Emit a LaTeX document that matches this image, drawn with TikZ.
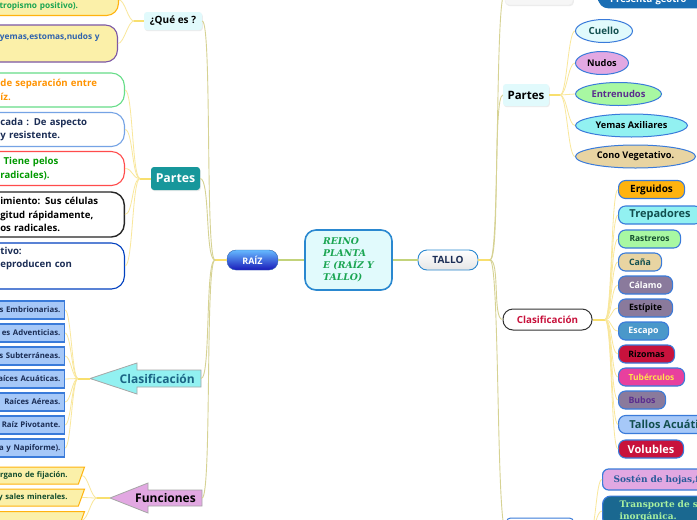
\documentclass[tikz,border=0pt]{standalone}
\usepackage{fontspec}
\setmainfont{Open Sans}
\newfontfamily\serifbold{DejaVu Serif}
\usetikzlibrary{shapes.geometric,shadows}

\definecolor{spinec}{HTML}{D6D293}
\definecolor{stemc}{HTML}{C3D37B}
\definecolor{twigc}{HTML}{F9E79B}
\definecolor{stubc}{HTML}{F8DF6E}
\definecolor{cyanf}{HTML}{E1FAFC}
\definecolor{blueb}{HTML}{3A7BDA}
\definecolor{hubb}{HTML}{2A88D0}
\definecolor{hubtext}{HTML}{1BA552}
\definecolor{tealf}{HTML}{17979B}
\definecolor{yellf}{HTML}{FBF0A9}
\definecolor{lblue}{HTML}{A6C8F8}
\definecolor{aqua}{HTML}{92F1F1}
\definecolor{mauve}{HTML}{E2A8E2}
\definecolor{mint}{HTML}{A8F8A2}
\definecolor{sand}{HTML}{E8D4A2}
\definecolor{grape}{HTML}{8A7A9C}
\definecolor{crimson}{HTML}{C8123C}
\definecolor{amber}{HTML}{FFB30F}
\definecolor{steel}{HTML}{4A98CA}
\definecolor{rose}{HTML}{E8409E}
\definecolor{navy}{HTML}{1B2D55}
\definecolor{deepteal}{HTML}{124F4F}
\definecolor{deepgreen}{HTML}{134D2E}
\definecolor{plum}{HTML}{5B2D8E}
\definecolor{gold}{HTML}{FFE24A}
\definecolor{clastext}{HTML}{1B6585}
\definecolor{presf}{HTML}{1A6EB4}
\definecolor{sostext}{HTML}{2A5A9A}
\definecolor{traf}{HTML}{1A6890}
\definecolor{tratext}{HTML}{A8F0A0}

\newcommand{\lpad}{\hspace*{30pt}}
\newcommand{\setfs}[2]{\fontsize{#1}{#2}\selectfont\bfseries}

\begin{document}
\begin{tikzpicture}[x=1pt,y=-1pt,
  every node/.style={font=\setfs{8}{10}},
  spine/.style={draw=spinec,line width=0.9pt},
  stem/.style={draw=stemc,line width=1.6pt},
  twig/.style={draw=twigc,line width=0.8pt},
  stub/.style={draw=stubc,line width=2pt},
  lcurve/.style={to path={.. controls +(-#1,0) and +(#1,0) .. (\tikztotarget)}},
  lcurve/.default=10,
  rcurve/.style={to path={.. controls +(#1,0) and +(-#1,0) .. (\tikztotarget)}},
  rcurve/.default=10,
  soft/.style={drop shadow={opacity=0.15,shadow xshift=0.8pt,shadow yshift=-1.2pt}},
  hub/.style={rounded corners=11pt,draw=hubb,line width=1.6pt,fill=cyanf,
    minimum width=87pt,minimum height=60pt,align=left,text=hubtext,
    font=\serifbold\bfseries\itshape\fontsize{9.3}{12}\selectfont},
  qabox/.style={anchor=east,fill=yellf,line width=1.1pt,rounded corners=12pt,
    text width=150pt,align=left,inner xsep=4pt,font=\setfs{8.3}{11}},
  leafl/.style={anchor=east,draw,fill=white,line width=1.1pt,rounded corners=13pt,
    text width=150pt,align=left,inner xsep=4pt,font=\setfs{9.6}{13.5}},
  clleaf/.style={anchor=east,draw=blueb,fill=lblue,line width=1.2pt,text width=90pt,
    align=right,inner xsep=4pt,minimum height=18pt,text=navy,font=\setfs{7.8}{9}},
  fuleaf/.style={trapezium,trapezium left angle=70,trapezium right angle=110,
    anchor=east,draw=amber,fill=yellf,line width=1pt,text width=80pt,align=right,
    inner xsep=3pt,minimum height=17pt,text=deepgreen,font=\setfs{7.7}{9}},
  oval/.style={ellipse,anchor=west,draw=blueb,line width=1pt,minimum height=23pt,
    inner sep=1pt,font=\setfs{9.2}{10}},
  pill/.style={anchor=west,draw=blueb,line width=1.1pt,rounded corners=7pt,
    minimum height=18pt,inner xsep=2pt,font=\setfs{8.8}{10}},
  arrowshape/.style={draw=gray!70,line width=0.8pt}
]
  \useasboundingbox (0,0) rectangle (697,520);
  \clip (0,0) rectangle (697,520);
  \fill[white] (0,0) rectangle (697,520);

  % centre and the two main branches
  \node[hub] (reino) at (348.5,260) {REINO\\PLANTA\\E (RAÍZ Y\\TALLO)};
  \node[rounded corners=9pt,draw=blueb!80!black,top color=blue!45!cyan!60!white,
    bottom color=blue!70!black!90,minimum width=51pt,minimum height=20pt,
    text=white,font=\setfs{9}{10}] (raiz) at (252.5,260) {RAÍZ};
  \node[rounded corners=9pt,draw=hubb,line width=0.9pt,top color=white,
    bottom color=gray!20,minimum width=60pt,minimum height=20pt,
    text=navy,font=\setfs{10}{11}] (tallo) at (448,260) {TALLO};
  \draw[stem] (raiz) -- (reino);
  \draw[stem] (reino) -- (tallo);

  % RAÍZ side
  \coordinate (jraiz) at (215,260);
  \node[fill=cyanf,soft,rounded corners=3pt,minimum width=58pt,minimum height=18pt,
    font=\setfs{10}{11}] (que) at (173,21) {¿Qué es ?};
  \node[fill=tealf,soft,rounded corners=3pt,minimum width=49pt,minimum height=23pt,
    text=white,font=\setfs{12.3}{13}] (partesr) at (175.5,178.5) {Partes};
  \draw[arrowshape,fill=aqua] (201,370) -- (137,370) -- (137,363) -- (90,378.5)
    -- (137,394) -- (137,387) -- (201,387) -- cycle;
  \coordinate (clastip) at (90,378.5);
  \node[anchor=east,inner xsep=6pt,text=clastext,font=\setfs{12}{13}]
    (clasr) at (201,378.5) {Clasificación};
  \draw[arrowshape,fill=mauve] (202,490) -- (148,490) -- (148,483) -- (110,498)
    -- (148,513) -- (148,506) -- (202,506) -- cycle;
  \coordinate (functip) at (110,498);
  \node[anchor=east,inner xsep=6pt,font=\setfs{12}{13}] (funcr) at (202,498) {Funciones};

  \draw[stub] (raiz.west) -- (jraiz);
  \draw[spine] (jraiz) to[lcurve] (que.east);
  \draw[spine] (jraiz) to[lcurve] (partesr.east);
  \draw[spine] (jraiz) to[lcurve] (clasr.east);
  \draw[spine] (jraiz) to[lcurve] (funcr.east);

  % ¿Qué es ?
  \coordinate (jque) at (134,21);
  \node[qabox,draw=amber,text=hubtext,minimum height=31pt] (qa1) at (119,0)
    {\strut\\\lpad otropismo positivo).};
  \node[qabox,draw=plum!80,text=blueb!80!black,minimum height=37pt] (qa2) at (118,43.5)
    {\lpad s,yemas,estomas,nudos y\\\strut};
  \draw[stub] (que.west) -- (jque);
  \draw[twig] (jque) to[lcurve=6] (qa1.east);
  \draw[twig] (jque) to[lcurve=6] (qa2.east);

  % Partes de la raíz
  \coordinate (jpartes) at (140,178.5);
  \node[leafl,draw=green!55!teal!60,text=orange!85!yellow,minimum height=34pt] (pa1) at (125,90)
    {\lpad de separación entre\\\lpad íz.};
  \node[leafl,draw=blueb!70,text=navy,minimum height=34pt] (pa2) at (125,129.5)
    {\lpad cada : De aspecto\\\lpad y resistente.};
  \node[leafl,draw=red!60!pink,text=green!60!black,minimum height=34pt] (pa3) at (125,168.5)
    {\lpad \ Tiene pelos\\\lpad radicales).};
  \node[leafl,draw=black!85,line width=1.4pt,text=black,minimum height=45pt] (pa4) at (125,214.5)
    {\lpad imiento: Sus células\\\lpad gitud rápidamente,\\\lpad os radicales.};
  \node[leafl,draw=blue!50!teal,text=navy,minimum height=46pt] (pa5) at (125,266)
    {\lpad tivo:\\\lpad eproducen con\\\strut};
  \draw[stub] (partesr.west) -- (jpartes);
  \draw[twig] (jpartes) to[lcurve=8] (pa1.east);
  \draw[twig] (jpartes) to[lcurve=8] (pa2.east);
  \draw[twig] (jpartes) to[lcurve=8] (pa3.east);
  \draw[twig] (jpartes) to[lcurve=8] (pa4.east);
  \draw[twig] (jpartes) to[lcurve=8] (pa5.east);

  % Clasificación de la raíz
  \coordinate (jclas) at (78,378.5);
  \node[clleaf] (cl1) at (65,310) {s Embrionarias.};
  \node[clleaf] (cl2) at (65,333) {es Adventicias.};
  \node[clleaf] (cl3) at (65,356) {s Subterráneas.};
  \node[clleaf] (cl4) at (65,379) {aíces Acuáticas.};
  \node[clleaf] (cl5) at (65,402) {Raíces Aéreas.};
  \node[clleaf] (cl6) at (65,425) {Raíz Pivotante.};
  \node[clleaf] (cl7) at (65,448) {a y Napiforme).};
  \draw[stub] (clastip) -- (jclas);
  \draw[twig] (jclas) to[lcurve=6] (cl1.east);
  \draw[twig] (jclas) to[lcurve=6] (cl2.east);
  \draw[twig] (jclas) to[lcurve=6] (cl3.east);
  \draw[twig] (jclas) to[lcurve=6] (cl4.east);
  \draw[twig] (jclas) to[lcurve=6] (cl5.east);
  \draw[twig] (jclas) to[lcurve=6] (cl6.east);
  \draw[twig] (jclas) to[lcurve=6] (cl7.east);

  % Funciones de la raíz
  \coordinate (jfunc) at (97,498);
  \node[fuleaf] (fu1) at (82,475.5) {órgano de fijación.};
  \node[fuleaf] (fu2) at (82,497.5) {y sales minerales.};
  \node[fuleaf] (fu3) at (82,520) {};
  \draw[stub] (functip) -- (jfunc);
  \draw[twig] (jfunc) to[lcurve=6] (fu1.east);
  \draw[twig] (jfunc) to[lcurve=6] (fu2.east);
  \draw[twig] (jfunc) to[lcurve=6] (fu3.east);

  % TALLO side
  \coordinate (jtallo) at (490,260);
  \node[fill=gray!7,draw=gray!15,soft,rounded corners=4pt,minimum width=68pt,
    minimum height=24pt] (quet) at (539,-7) {};
  \node[anchor=south west,fill=presf,rounded corners=10pt,minimum width=120pt,
    minimum height=17pt,text width=100pt,align=left,inner xsep=12pt,text=white,
    font=\setfs{9.5}{10}] (pres) at (598,8.5) {Presenta geotro};
  \node[fill=cyanf,soft,rounded corners=3pt,minimum width=46pt,minimum height=22pt,
    font=\setfs{11.5}{12}] (partest) at (526,95) {Partes};
  \node[draw=black!80,line width=1pt,fill=white,rounded corners=10pt,minimum width=89pt,
    minimum height=21pt,text=crimson,font=\setfs{9.8}{10}] (clast) at (547.5,319.5) {Clasificación};
  \node[draw=blueb,line width=1pt,fill=white,rounded corners=4pt,minimum width=67pt,
    minimum height=26pt] (funct) at (540,531) {};
  \draw[stub] (tallo.east) -- (jtallo);
  \draw[spine] (jtallo) to[rcurve] (quet.west);
  \draw[spine] (jtallo) to[rcurve] (partest.west);
  \draw[spine] (jtallo) to[rcurve] (clast.west);
  \draw[spine] (jtallo) to[rcurve] (funct.west);

  % Partes del tallo
  \coordinate (jpt) at (560,95);
  \node[oval,fill=cyanf,text=deepteal,minimum width=57pt,font=\setfs{9.8}{10}] (e1) at (575,31) {Cuello};
  \node[oval,fill=mauve,text=black,minimum width=53pt] (e2) at (575,63) {Nudos};
  \node[oval,fill=mint,text=plum,minimum width=86pt,font=\setfs{9.4}{10}] (e3) at (575,94) {Entrenudos};
  \node[oval,fill=aqua,text=black,minimum width=112pt] (e4) at (575,125.5) {Yemas Axiliares};
  \node[oval,fill=sand,text=black,minimum width=120pt] (e5) at (575,156.5) {Cono Vegetativo.};
  \draw[stub] (partest.east) -- (jpt);
  \draw[twig] (jpt) to[rcurve=7] (e1.west);
  \draw[twig] (jpt) to[rcurve=7] (e2.west);
  \draw[twig] (jpt) to[rcurve=7] (e3.west);
  \draw[twig] (jpt) to[rcurve=7] (e4.west);
  \draw[twig] (jpt) to[rcurve=7] (e5.west);

  % Clasificación del tallo
  \coordinate (jct) at (605,319.5);
  \node[pill,fill=amber,minimum width=66pt,font=\setfs{10}{11}] (k1) at (618,189.5) {Erguidos};
  \node[pill,fill=aqua,text=deepteal,minimum width=83pt,font=\setfs{11}{12}] (k2) at (618,215) {Trepadores};
  \node[pill,fill=mint,text=deepgreen,minimum width=62pt,font=\setfs{8.4}{9}] (k3) at (618,239) {Rastreros};
  \node[pill,fill=sand,text=deepteal,minimum width=43pt] (k4) at (618,262) {Caña};
  \node[pill,fill=grape,text=white,minimum width=54pt] (k5) at (618,285) {Cálamo};
  \node[pill,fill=grape,text=black,minimum width=54pt] (k6) at (618,308) {Estípite};
  \node[pill,fill=steel,text=white,minimum width=50pt] (k7) at (618,331) {Escapo};
  \node[pill,fill=crimson,text=black,minimum width=56pt] (k8) at (618,354) {Rizomas};
  \node[pill,fill=rose,text=gold,minimum width=66pt,font=\setfs{8.4}{9}] (k9) at (618,377) {Tubérculos};
  \node[pill,fill=grape,text=plum,minimum width=47pt] (k10) at (618,400) {Bubos};
  \node[pill,fill=lblue,text=deepteal,minimum width=109pt,font=\setfs{11}{12}] (k11) at (618,424.5) {Tallos Acuáticos};
  \node[pill,fill=crimson,text=white,minimum width=65pt,font=\setfs{11}{12}] (k12) at (618,449) {Volubles};
  \draw[stub] (clast.east) -- (jct);
  \draw[twig] (jct) to[rcurve=7] (k1.west);
  \draw[twig] (jct) to[rcurve=7] (k2.west);
  \draw[twig] (jct) to[rcurve=7] (k3.west);
  \draw[twig] (jct) to[rcurve=7] (k4.west);
  \draw[twig] (jct) to[rcurve=7] (k5.west);
  \draw[twig] (jct) to[rcurve=7] (k6.west);
  \draw[twig] (jct) to[rcurve=7] (k7.west);
  \draw[twig] (jct) to[rcurve=7] (k8.west);
  \draw[twig] (jct) to[rcurve=7] (k9.west);
  \draw[twig] (jct) to[rcurve=7] (k10.west);
  \draw[twig] (jct) to[rcurve=7] (k11.west);
  \draw[twig] (jct) to[rcurve=7] (k12.west);

  % Funciones del tallo
  \coordinate (jft) at (590,531);
  \node[anchor=west,draw=blueb,line width=1.2pt,fill=mauve,rounded corners=6pt,
    minimum height=21pt,text width=100pt,align=left,inner xsep=11pt,text=sostext,
    font=\serifbold\bfseries\fontsize{9}{10}\selectfont] (sos) at (602,479.5) {Sostén de hojas,f};
  \node[anchor=north west,draw=blueb,line width=1.2pt,fill=traf,rounded corners=8pt,
    minimum height=30pt,text width=100pt,align=left,inner xsep=17pt,text=tratext,
    font=\serifbold\bfseries\fontsize{9}{12}\selectfont] (tra) at (602,495.5)
    {Transporte de s\\inorgánica.};
  \draw[stub] (funct.east) -- (jft);
  \draw[twig] (jft) to[rcurve=6] (sos.west);
  \draw[twig] (jft) to[rcurve=6] (tra.west);
\end{tikzpicture}
\end{document}
